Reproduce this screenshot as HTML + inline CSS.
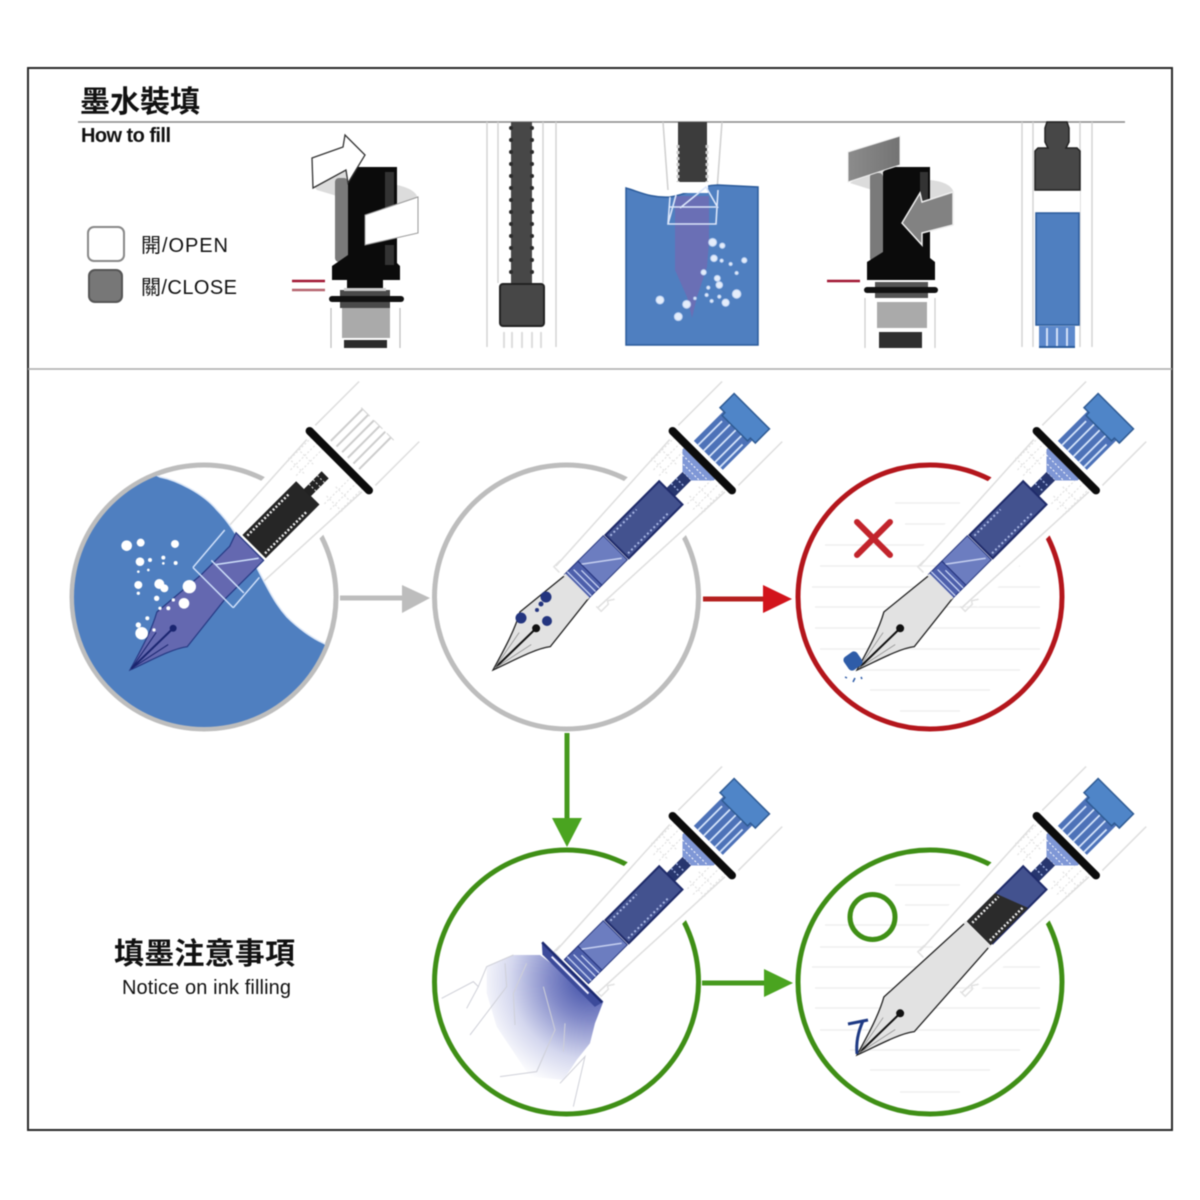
<!DOCTYPE html>
<html lang="zh-Hant"><head><meta charset="utf-8"><title>墨水裝填 How to fill</title>
<style>html,body{margin:0;padding:0;background:#fff}svg{display:block;filter:blur(.5px)}
.c{font-family:"Liberation Sans","Noto Sans CJK TC",sans-serif;fill:#111}
</style></head><body>
<svg width="1200" height="1200" viewBox="0 0 1200 1200" xmlns="http://www.w3.org/2000/svg">
<defs>
<clipPath id="c1"><circle cx="204" cy="597" r="130"/></clipPath>
<radialGradient id="tg" gradientUnits="userSpaceOnUse" cx="480" cy="660" r="340"><stop offset="0" stop-color="#3a4aa4"/><stop offset=".35" stop-color="#8189c8"/><stop offset=".7" stop-color="#d4d7ee"/><stop offset="1" stop-color="#fff"/></radialGradient>
<linearGradient id="ar1" x1="0" x2="1" y1="0" y2="0"><stop offset="0" stop-color="#8c8c8c"/><stop offset="1" stop-color="#737373"/></linearGradient>
<g id="barrel">
 <rect x="130" y="-41" width="250" height="82" fill="#fff"/>
 <path d="M118,-29 L288,-38 M118,30 L290,38 M304,-42 L366,-42 M304,43 L366,43" fill="none" stroke="#dedede" stroke-width="1.5"/>
 <path d="M116,-22 L116,-30 L125,-30 M118,28 V35 H128 L130,32 L136,36" fill="none" stroke="#e2e2e2" stroke-width="1.5"/>
 <g stroke="#e2e2e2" stroke-width="1.2" stroke-dasharray="2 2"><path d="M255,-36H292M255,-28H292M255,-20H292M255,20H292M255,28H292M255,36H292M262,-38V-16M275,-38V-16M262,16V38M275,16V38"/></g>
</g>
<g id="band"><line x1="296" y1="-42" x2="296" y2="42" stroke="#0c0c0c" stroke-width="8" stroke-linecap="round"/></g>
<g id="cap">
 <rect x="304" y="-20" width="43" height="41" fill="#4d72b8"/>
 <path d="M304,-14H338M304,-6H344M304,2H348M304,10H344M304,17H336" stroke="#d4e3fa" stroke-width="1.8" fill="none"/>
 <path d="M346,-25H366V25H346V18H342V-18H346Z" fill="#4f85c8" stroke="#2f5b94" stroke-width="1.5"/>
 <path d="M268,0 L290,-22 H292 V22 H290Z" fill="#7f97d6"/>
 <path d="M274,-5V5M280,-11V11M286,-18V18" stroke="#fff" stroke-width="1" stroke-dasharray="2 2"/>
 <rect x="250" y="-6" width="24" height="12" fill="#27366f"/>
 <path d="M258,-6V6M265,-6V6" stroke="#9fb0e0" stroke-width="1.5" stroke-dasharray="2 2"/>
</g>
<g id="resB">
 <rect x="175" y="-16" width="76" height="33" fill="#43528f" stroke="#1f2b6a" stroke-width="2"/>
 <path d="M178,-12H215M178,13H235" stroke="#a8b6e4" stroke-width="2" stroke-dasharray="2 2.5"/>
</g>
<g id="sec">
 <rect x="137" y="-17" width="36" height="34" fill="#6c7dc0" stroke="#2b3a80" stroke-width="1"/>
 <path d="M135,-14 L170,12" stroke="#c6d0f0" stroke-width="1.5"/>
 <rect x="118" y="-17" width="19" height="34" fill="#4d5fab" stroke="#24337c" stroke-width="1"/>
 <path d="M122,-17V17M128,-14V17M133,-8V17" stroke="#c8d4f4" stroke-width="1.3"/>
</g>
<g id="nib">
 <path d="M0,0 C20,-6 42,-12 60,-22 L118,-16 L118,17 L57,24 C44,14 18,7 0,0Z" fill="#e2e2e2" stroke="#222" stroke-width="1.3"/>
 <path d="M118,-17V17" stroke="#e2e2e2" stroke-width="3"/>
 <path d="M2,0 L60,1" stroke="#111" stroke-width="2"/>
 <circle cx="60" cy="1" r="4" fill="#111"/>
 <path d="M2,0 L45,-8 M2,0 L45,9" stroke="#888" stroke-width=".7"/>
</g>
</defs>
<rect width="1200" height="1200" fill="#fff"/>
<rect x="28" y="68" width="1144" height="1062" fill="#fff" stroke="#2a2a2a" stroke-width="2"/>
<line x1="28" y1="369" x2="1172" y2="369" stroke="#aaa" stroke-width="1.5"/>
<line x1="78" y1="122" x2="1125" y2="122" stroke="#888" stroke-width="1.5"/>

<text class="c" x="80" y="112" font-size="30" font-weight="700" textLength="120">墨水裝填</text>
<text class="c" x="81" y="142" font-size="20" font-weight="700" textLength="90">How to fill</text>
<rect x="88" y="227" width="36" height="34" rx="6" fill="#fff" stroke="#888" stroke-width="2"/>
<rect x="89" y="270" width="33" height="32" rx="6" fill="#777" stroke="#555" stroke-width="2"/>
<text class="c" x="141" y="252" font-size="20" textLength="87">開/OPEN</text>
<text class="c" x="141" y="294" font-size="20" textLength="96">關/CLOSE</text>
<text class="c" x="114" y="964" font-size="30" font-weight="700" textLength="181">填墨注意事項</text>
<text class="c" x="122" y="994" font-size="20" textLength="169">Notice on ink filling</text>

<!-- Top step 1 -->
<path d="M317,190 C305,178 325,170 350,168 L397,185 C420,190 420,200 415,205 L400,215Z" fill="#dcdcdc"/>
<rect x="335" y="178" width="13" height="84" rx="4" fill="#7a7a7a"/>
<path d="M348,175 L355,167 H397 V263 L400,266 V280 H383 V288 H347 V280 H332 V266 L348,255Z" fill="#0b0b0b"/>
<rect x="385" y="172" width="9" height="45" fill="#333"/>
<rect x="385" y="245" width="9" height="20" fill="#333"/>
<path d="M312,158 L343,147 L345,135 L365,155 L348,183 L346,170 L313,188Z" fill="#fff" stroke="#333" stroke-width="1.3"/>
<path d="M365,215 L418,197 V233 L365,245Z" fill="#fff" stroke="#999" stroke-width="1"/>
<rect x="340" y="290" width="50" height="18" fill="#4a4a4a"/><rect x="344" y="288" width="42" height="3" fill="#ccc"/>
<rect x="329" y="296" width="75" height="6" rx="3" fill="#111"/>
<rect x="342" y="308" width="48" height="30" fill="#aaa"/>
<rect x="344" y="340" width="43" height="8" fill="#2c2c2c"/>
<path d="M331,308V348M400,308V348" stroke="#bbb" stroke-width="1.2"/>
<path d="M292,281H325" stroke="#a11632" stroke-width="2.5"/><path d="M292,290H325" stroke="#b6656f" stroke-width="2.5"/>

<!-- Top step 2 -->
<g stroke="#d5d5d5" stroke-width="1.5"><path d="M487,122V347M498,122V283M543,122V283M556,122V347"/></g>
<rect x="511" y="122" width="21" height="165" fill="#474747"/>
<line x1="511" y1="128" x2="511" y2="280" stroke="#2c2c2c" stroke-width="4" stroke-dasharray="0 12" stroke-linecap="round"/>
<line x1="532" y1="128" x2="532" y2="280" stroke="#2c2c2c" stroke-width="4" stroke-dasharray="0 12" stroke-linecap="round"/>
<rect x="500" y="284" width="44" height="42" rx="3" fill="#474747" stroke="#222" stroke-width="2"/>
<path d="M504,332V348M512,332V348M522,332V348M532,332V348M541,332V348" stroke="#ddd" stroke-width="2"/>

<!-- Top step 3 -->
<path d="M663,122 L668,190M722,122 L717,190" stroke="#cfcfcf" stroke-width="1.5"/>
<path d="M626,188 C640,192 650,198 670,197 C690,194 700,185 718,185 L758,187 V345 H626Z" fill="#4f7fc0" stroke="#2c5c9c" stroke-width="1.5"/>
<rect x="678" y="122" width="29" height="60" fill="#3c3c3c"/>
<path d="M678,145V182M707,145V182" stroke="#ccc" stroke-width="3" stroke-dasharray="3 3"/>
<rect x="677" y="182" width="31" height="11" fill="#fff"/>
<path d="M675,196H709V243L707,267L697,297L692,318L687,297L675,270Z" fill="#6a6fb5"/>
<g fill="none" stroke="#dbe6fa" stroke-width="1.6"><path d="M670,197 L668,224 H716 L718,190 M670,207 L716,207 M680,208 L706,187 L718,208 M668,224 L676,195"/></g>
<g fill="#e4edfb" stroke="#bcd0f0" stroke-width="3" transform="translate(280,110) scale(.3333)">
<circle cx="1298" cy="397" r="12"/><circle cx="1327" cy="407" r="8"/><circle cx="1302" cy="445" r="10"/><circle cx="1393" cy="451" r="8"/><circle cx="1325" cy="452" r="5"/><circle cx="1352" cy="462" r="5"/><circle cx="1271" cy="487" r="8"/><circle cx="1370" cy="489" r="5"/><circle cx="1312" cy="505" r="9"/><circle cx="1318" cy="525" r="10"/><circle cx="1285" cy="533" r="5"/><circle cx="1370" cy="552" r="13"/><circle cx="1337" cy="578" r="11"/><circle cx="1140" cy="570" r="12"/><circle cx="1220" cy="583" r="12"/><circle cx="1195" cy="620" r="12"/><circle cx="1295" cy="573" r="5"/><circle cx="1280" cy="555" r="5"/><circle cx="1318" cy="560" r="5"/><circle cx="1245" cy="565" r="4"/></g>

<!-- Top step 4 -->
<path d="M850,183 C860,175 880,170 905,168 L930,180 C950,182 955,190 953,195 L935,210Z" fill="#dcdcdc"/>
<rect x="870" y="173" width="13" height="89" rx="4" fill="#7a7a7a"/>
<path d="M883,172 L888,167 H930 V258 L935,262 V280 H867 V262 L883,252Z" fill="#0b0b0b"/>
<rect x="920" y="172" width="8" height="45" fill="#333"/>
<path d="M848,152 L900,136 V165 L848,182Z" fill="url(#ar1)" stroke="#eee" stroke-width="1"/>
<path d="M953,192 L922,202 L920,193 L902,223 L922,245 L922,233 L953,225Z" fill="#828282" stroke="#eee" stroke-width="1.5"/>
<rect x="875" y="282" width="53" height="16" fill="#555"/>
<rect x="864" y="287" width="74" height="6" rx="3" fill="#111"/>
<rect x="877" y="302" width="50" height="26" fill="#aaa"/>
<rect x="879" y="332" width="43" height="16" fill="#2f2f2f"/>
<path d="M865,298V348M935,298V348" stroke="#ccc" stroke-width="1.2"/>
<path d="M827,281H860" stroke="#a11632" stroke-width="2.5"/>

<!-- Top step 5 -->
<g stroke="#d5d5d5" stroke-width="1.5"><path d="M1022,122V347M1033,122V347M1080,122V347M1092,122V347"/></g>
<rect x="1034" y="190" width="46" height="22" fill="#fff"/>
<path d="M1047,122H1067L1069,128V142L1066,148H1077L1080,151V190H1035V151L1038,148H1048L1045,142V128Z" fill="#474747" stroke="#222" stroke-width="1.5"/>
<rect x="1036" y="213" width="43" height="112" fill="#4f7fc0" stroke="#2c5c9c" stroke-width="1.5"/>
<rect x="1039" y="326" width="36" height="22" fill="#5d89cc"/>
<path d="M1047,328V346M1057,328V346M1067,328V346" stroke="#d2e0f8" stroke-width="2"/>
<path d="M1039,347H1075" stroke="#2c5c9c" stroke-width="2"/>

<!-- Circle 1 -->
<circle cx="204" cy="597" r="132" fill="#fff" stroke="#bdbdbd" stroke-width="5"/>
<g transform="translate(130,670) rotate(-45)"><use href="#barrel"/></g>
<path clip-path="url(#c1)" d="M150,472 L160,477 C176,480 203,493 217,510 C225,518 229,524 233,530 C243,545 248,552 253,560 C258,570 262,578 267,587 C274,600 279,608 287,617 C298,628 312,638 323,643 L340,652 V760 H60 V460 H150Z" fill="#4f7fc0" stroke="#dbe6f6" stroke-width="1.5"/>
<g transform="translate(130,670) rotate(-45)">
 <path d="M304,-20 H349 M304,-12 H349 M304,-4 H349 M304,4 H349 M304,12 H349 M304,20H349" stroke="#cdcdcd" stroke-width="2" fill="none"/>
 <path d="M349,-22V-10M349,-4V8M349,14V24" stroke="#d8d8d8" stroke-width="1.2"/>
 <rect x="175" y="-16" width="76" height="33" fill="#262626"/>
 <path d="M178,-12H238M178,13H238" stroke="#e8e8e8" stroke-width="2.5" stroke-dasharray="2 2"/>
 <rect x="250" y="-5" width="26" height="10" fill="#222"/><path d="M258,-5V5M264,-5V5M270,-5V5" stroke="#ccc" stroke-width="1.2" stroke-dasharray="2 2"/>
 <path d="M0,0 C20,-6 42,-12 60,-22 L118,-17 H158 L172,-22 V17 H118 L57,24 C44,14 18,7 0,0Z" fill="#6468b0" stroke="#263a84" stroke-width="1.2"/>
 <path d="M2,0 L60,1" stroke="#1a2570" stroke-width="2"/><circle cx="60" cy="1" r="3.5" fill="#1a2570"/>
 <path d="M2,0 L45,-8 M2,0 L45,9" stroke="#1a2570" stroke-width="1"/>
 <g fill="none" stroke="#cfe0fa" stroke-width="1.5"><path d="M117,-28 L166,-32 M117,29 L157,26 M117,-28 V29 M135,-20 V26 M135,-14 L170,12"/></g>
 <use href="#band"/>
</g>
<g fill="#fff" transform="translate(60,380) scale(.3333)">
<circle cx="200" cy="497" r="16"/><circle cx="242" cy="488" r="12"/><circle cx="345" cy="492" r="12"/><circle cx="240" cy="545" r="13"/><circle cx="270" cy="540" r="6"/><circle cx="310" cy="533" r="6"/><circle cx="347" cy="549" r="6"/><circle cx="235" cy="615" r="12"/><circle cx="298" cy="612" r="15"/><circle cx="313" cy="625" r="12"/><circle cx="388" cy="620" r="20"/><circle cx="372" cy="670" r="16"/><circle cx="290" cy="655" r="8"/><circle cx="325" cy="685" r="6"/><circle cx="300" cy="685" r="5"/><circle cx="235" cy="640" r="5"/><circle cx="245" cy="760" r="19"/><circle cx="235" cy="735" r="8"/><circle cx="262" cy="715" r="6"/><circle cx="282" cy="750" r="5"/><circle cx="235" cy="575" r="4"/><circle cx="265" cy="570" r="4"/><circle cx="310" cy="550" r="4"/><circle cx="340" cy="660" r="5"/></g>

<!-- Arrow grey -->
<path d="M340,598H404" stroke="#bdbdbd" stroke-width="5"/><path d="M402,585 L430,598 L402,613Z" fill="#bdbdbd"/>

<!-- Circle 2 -->
<circle cx="566.5" cy="597" r="132" fill="#fff" stroke="#bdbdbd" stroke-width="5"/>
<g transform="translate(493,670) rotate(-45)"><use href="#barrel"/><use href="#cap"/><use href="#resB"/><use href="#sec"/><use href="#nib"/><use href="#band"/></g>
<g fill="#24357f"><circle cx="546" cy="597" r="5.5"/><circle cx="521" cy="618" r="5.5"/><circle cx="547" cy="621" r="5"/><circle cx="541" cy="604" r="2.5"/><circle cx="537" cy="610" r="2"/></g>

<!-- Arrow red -->
<path d="M703,599H766" stroke="#b5201f" stroke-width="5"/><path d="M763,585 L792,599 L763,613Z" fill="#d2141c"/>

<!-- Circle 3 -->
<circle cx="930" cy="597" r="132" fill="#fff" stroke="#b4161c" stroke-width="5"/>
<g stroke="#efefef" stroke-width="1.4"><path d="M895,503H960M905,524H960M825,545H935M820,566H1020M812,587H1040M815,607H1040M815,628H1040M820,649H1040M850,670H1020M870,690H990M900,711H960"/></g>
<path d="M857,522 L890,555 M890,522 L857,555" stroke="#c2242c" stroke-width="6" stroke-linecap="round"/>
<g transform="translate(857,670) rotate(-45)"><use href="#barrel"/><use href="#cap"/><use href="#resB"/><use href="#sec"/><use href="#nib"/><use href="#band"/></g>
<rect x="845" y="653" width="16" height="16" rx="4" transform="rotate(-35 853 661)" fill="#2e5ca8"/>
<path d="M847,678L845,677M855,678L853,682M861,677L862,679" stroke="#2e5ca8" stroke-width="1.5"/>

<!-- Arrow green down -->
<path d="M567,733V822" stroke="#469a1e" stroke-width="5"/><path d="M552,818H582L567,847Z" fill="#4aa420"/>

<!-- Circle 4 -->
<circle cx="566.5" cy="982" r="132" fill="#fff" stroke="#3f8f16" stroke-width="5"/>
<g transform="translate(493,1055) rotate(-45)"><use href="#barrel"/><use href="#cap"/><use href="#resB"/><use href="#sec"/><use href="#band"/></g>
<g transform="translate(430,760) scale(.3333)">
 <path d="M170,620 L250,585 H330 L520,725 L495,790 L480,850 L440,900 L400,960 L300,950 L200,800 L170,700Z" fill="url(#tg)"/>
 <g fill="none" stroke="#cfd0d8" stroke-width="3"><path d="M35,715 L130,665 L145,680 L170,620 L250,585M110,745 L145,680M120,825 L230,680 L225,610M255,795 L250,700 L290,610M210,950 L320,935 L375,810 L340,680M400,875 L405,790M390,970 L465,890 L430,1040"/></g>
</g>
<g transform="translate(493,1055) rotate(-45)">
 <path d="M114,-45 V40 L106,38 V-36Z" fill="#3c4a9a"/>
 <line x1="114.5" y1="-45" x2="114.5" y2="40" stroke="#1c2a70" stroke-width="2.5"/>
 <line x1="111" y1="-28" x2="111" y2="24" stroke="#eef" stroke-width="2"/>
</g>

<!-- Arrow green right -->
<path d="M702,983H766" stroke="#469a1e" stroke-width="5"/><path d="M764,969 L793,983 L764,997Z" fill="#4aa420"/>

<!-- Circle 5 -->
<circle cx="930" cy="982" r="132" fill="#fff" stroke="#3f8f16" stroke-width="5"/>
<g stroke="#efefef" stroke-width="1.4"><path d="M895,885H960M905,905H960M825,925H935M820,947H1020M812,967H1040M815,988H1040M815,1008H1040M820,1030H1040M850,1050H1020M870,1070H990M900,1092H960"/></g>
<circle cx="872.5" cy="917" r="22.5" fill="none" stroke="#3f8f16" stroke-width="5"/>
<g transform="translate(857,1055) rotate(-45)"><use href="#barrel"/><use href="#cap"/>
 <rect x="175" y="-16" width="76" height="33" fill="#43528f" stroke="#1f2b6a" stroke-width="2"/>
 <path d="M172,-17 H212 L225,17 H172Z" fill="#2b2b2b"/>
 <path d="M175,-12H212M175,13H222" stroke="#e8e8e8" stroke-width="2.5" stroke-dasharray="2 2"/>
 <path d="M0,0 C20,-6 42,-12 60,-22 L170,-17 V17 L57,24 C44,14 18,7 0,0Z" fill="#e2e2e2" stroke="#222" stroke-width="1.3"/>
 <path d="M170,-18V18" stroke="#e2e2e2" stroke-width="3"/>
 <path d="M2,0 L60,1" stroke="#111" stroke-width="2"/><circle cx="60" cy="1" r="4" fill="#111"/>
 <path d="M2,0 L45,-8 M2,0 L45,9" stroke="#888" stroke-width=".7"/>
 <use href="#band"/>
</g>
<path d="M848,1024 L868,1020 M863,1021 C858,1032 856,1044 857,1054" fill="none" stroke="#1e3a84" stroke-width="3"/>
</svg>
</body></html>
